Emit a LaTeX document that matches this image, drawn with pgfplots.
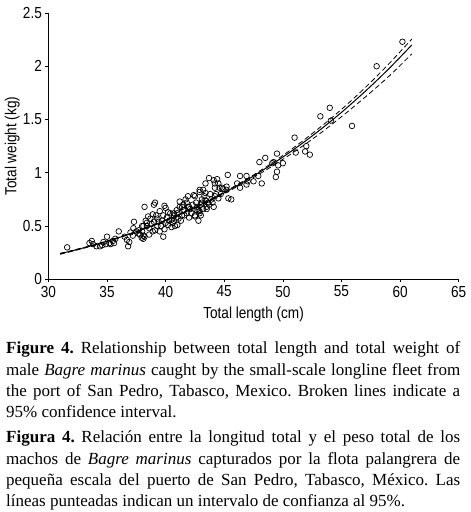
\documentclass[border=0pt]{standalone}
\usepackage{pgfplots}
\pgfplotsset{compat=1.18}
\usepackage{fontspec}
\setmainfont{Liberation Serif}
\newfontfamily\narrow[FakeStretch=0.85]{Liberation Sans}

\pgfplotstableread{
L W
31.6 0.30
33.5 0.34
33.7 0.36
33.8 0.33
34.1 0.31
34.4 0.31
34.6 0.32
34.7 0.35
34.9 0.33
35.0 0.40
35.2 0.34
35.3 0.33
35.5 0.36
35.6 0.34
35.7 0.38
36.0 0.45
36.5 0.40
36.7 0.37
36.9 0.35
36.8 0.31
37.0 0.44
37.2 0.41
37.25 0.48
37.3 0.54
37.5 0.45
37.7 0.46
37.7 0.43
37.8 0.42
38.0 0.50
38.0 0.45
38.1 0.41
37.96 0.39
38.2 0.40
38.1 0.38
38.3 0.55
38.4 0.50
38.2 0.68
38.5 0.59
38.4 0.53
38.1 0.50
38.6 0.48
38.6 0.42
38.7 0.57
38.8 0.52
38.9 0.61
38.9 0.45
39.0 0.54
39.1 0.46
39.0 0.70
39.1 0.72
39.2 0.60
39.3 0.50
39.3 0.57
39.4 0.54
39.5 0.64
39.5 0.45
39.6 0.50
39.7 0.55
39.8 0.60
39.8 0.40
39.9 0.69
39.9 0.47
40.0 0.67
40.0 0.53
40.1 0.58
40.2 0.51
40.2 0.63
40.3 0.55
40.4 0.62
40.5 0.56
40.5 0.49
40.6 0.53
40.7 0.60
40.7 0.55
40.7 0.62
40.8 0.50
40.9 0.58
40.95 0.65
41.0 0.51
41.0 0.62
41.1 0.57
41.2 0.68
41.2 0.73
41.3 0.55
41.4 0.60
41.4 0.68
41.5 0.65
41.5 0.70
41.6 0.65
41.6 0.60
41.7 0.75
41.8 0.72
41.8 0.62
41.9 0.68
41.9 0.78
42.0 0.58
42.0 0.68
42.1 0.66
42.2 0.62
42.3 0.70
42.4 0.79
42.5 0.59
42.5 0.60
42.5 0.78
42.6 0.72
42.65 0.65
42.7 0.68
42.8 0.55
42.8 0.65
42.9 0.62
42.9 0.64
42.9 0.82
42.9 0.84
43.0 0.60
43.0 0.70
43.1 0.72
43.1 0.75
43.2 0.84
43.2 0.66
43.3 0.78
43.4 0.81
43.4 0.74
43.4 0.90
43.5 0.66
43.5 0.68
43.6 0.72
43.7 0.95
43.7 0.70
43.8 0.80
43.9 0.75
44.0 0.72
44.1 0.68
44.1 0.93
44.2 0.78
44.2 0.86
44.2 0.90
44.3 0.80
44.4 0.94
44.5 0.90
44.5 0.76
44.6 0.86
44.7 0.80
44.8 0.86
44.9 0.85
45.2 0.84
45.2 0.87
45.3 0.98
45.35 0.76
45.6 0.75
46.1 0.90
46.35 0.97
46.35 0.86
46.9 0.89
46.9 0.97
47.0 0.92
47.5 0.92
47.9 0.97
48.0 1.10
48.2 0.90
48.5 1.14
49.1 1.09
49.2 1.10
49.4 0.96
49.5 1.01
49.5 1.18
49.6 1.07
50.0 1.09
51.0 1.33
51.1 1.19
51.9 1.20
52.0 1.25
52.3 1.17
53.2 1.53
54.0 1.61
54.1 1.49
55.9 1.44
58.0 2.00
60.2 2.23
}\ptstab

\pgfplotstableread{
L W
31 0.240
33 0.295
35 0.357
37 0.428
39 0.509
41 0.599
43 0.701
45 0.813
47 0.937
49 1.074
51 1.224
53 1.388
55 1.567
57 1.762
59 1.972
61 2.200
}\fittab

\pgfplotstableread{
L W
31 0.244
33 0.298
35 0.360
37 0.430
39 0.512
41 0.602
43 0.705
45 0.820
47 0.946
49 1.087
51 1.242
53 1.411
55 1.595
57 1.797
59 2.018
61 2.255
}\uppertab

\pgfplotstableread{
L W
31 0.235
33 0.291
35 0.353
37 0.425
39 0.506
41 0.596
43 0.696
45 0.805
47 0.924
49 1.056
51 1.199
53 1.355
55 1.526
57 1.708
59 1.901
61 2.116
}\lowertab

\begin{document}
\begin{tikzpicture}
\path[use as bounding box] (-48.4pt,-232.7pt) rectangle (422.6pt,279.3pt);
\begin{axis}[
  scale only axis, width=410.3pt, height=266.3pt,
  xmin=30, xmax=65, ymin=0, ymax=2.5,
  axis lines=left,
  axis line style={-, line width=0.8pt},
  x axis line style={line width=1.6pt},
  xtick={30,35,...,65}, ytick={0,0.5,...,2.5},
  tick align=outside, major tick length=3pt,
  tick style={black, line width=0.6pt},
  tick label style={font=\narrow\fontsize{16}{18}\selectfont},
  /pgf/number format/assume math mode=true,
  clip=false,
]
\addplot[only marks, mark=o, mark size=2.8pt, mark options={line width=0.7pt, black}] table[x=L,y=W] {\ptstab};
\addplot[black, line width=1pt, smooth] table[x=L,y=W] {\fittab};
\addplot[black, line width=0.8pt, dash pattern=on 5pt off 3pt, smooth] table[x=L,y=W] {\uppertab};
\addplot[black, line width=0.8pt, dash pattern=on 5pt off 3pt, smooth] table[x=L,y=W] {\lowertab};
\end{axis}
\node[anchor=base, font=\narrow\fontsize{16}{18}\selectfont] at (205.15pt,-38.7pt) {Total length (cm)};
\node[anchor=base, rotate=90, font=\narrow\fontsize{16}{18}\selectfont] at (-31.9pt,133.15pt) {Total weight (kg)};
\node[anchor=north west, inner sep=0pt, text width=454pt, align=justify] at (-42.4pt,-62.5pt) {%
\fontsize{17}{21.3}\selectfont\frenchspacing\hyphenpenalty=10000\exhyphenpenalty=10000
\textbf{Figure 4.} Relationship between total length and total weight of\linebreak
male \textit{Bagre marinus} caught by the small-scale longline fleet from\linebreak
the port of San Pedro, Tabasco, Mexico. Broken lines indicate a\linebreak
95\% confidence interval.\par\vspace{3.7pt}
\textbf{Figura 4.} Relación entre la longitud total y el peso total de los\linebreak
machos de \textit{Bagre marinus} capturados por la flota palangrera de\linebreak
pequeña escala del puerto de San Pedro, Tabasco, México. Las\linebreak
líneas punteadas indican un intervalo de confianza al 95\%.\par};
\end{tikzpicture}
\end{document}
